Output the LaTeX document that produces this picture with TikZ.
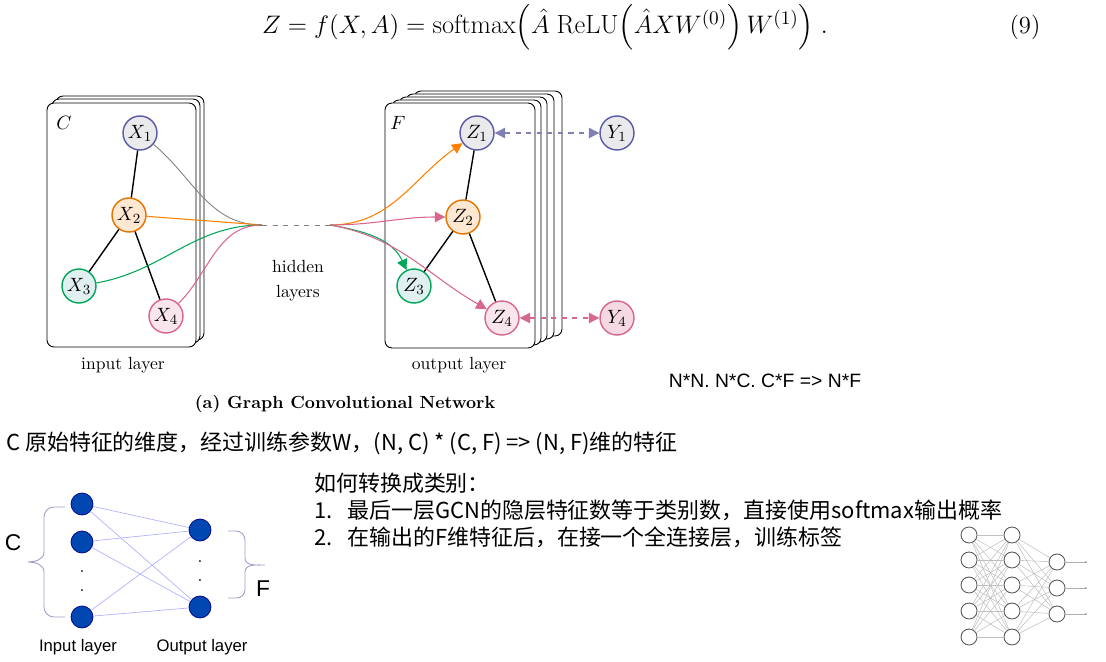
\documentclass[tikz,border=0pt]{standalone}
\usepackage{amsmath}
\usepackage{fontspec}
\newfontfamily\cjk{Noto Sans CJK SC}
\newfontfamily\sans{Liberation Sans}
\usetikzlibrary{arrows.meta,decorations.pathreplacing}
\begin{document}
\begin{tikzpicture}[x=0.02cm,y=-0.02cm,
  card/.style={draw,fill=white,rounded corners=4pt,line width=0.5pt},
  gn/.style={circle,draw,line width=0.8pt,minimum size=0.68cm,inner sep=0pt,font=\fontsize{11}{12}\selectfont},
  cgray/.style={draw=gray!70!blue,fill=blue!8!gray!15},
  corange/.style={draw=orange!90!black,fill=orange!18},
  cgreen/.style={draw=teal!70!green,fill=teal!12},
  cpink/.style={draw=purple!60,fill=purple!10},
  lab/.style={font=\fontsize{10}{12}\selectfont},
  nn/.style={circle,fill=blue!60!cyan!70!black,draw=blue!50!black,minimum size=0.44cm,inner sep=0pt},
  wn/.style={circle,draw=gray!70!black,fill=white,minimum size=0.32cm,inner sep=0pt,line width=0.5pt},
  cn/.style={font=\cjk\fontsize{12.5}{14}\selectfont,anchor=west},
  ar/.style={-{Triangle[length=6pt,width=6pt]},line width=0.6pt}]
\useasboundingbox (0,0) rectangle (1106,662);
% equation
\node (eq) at (545,27) {\fontsize{15}{17}\selectfont $Z=f(X,A)=\mathrm{softmax}\Bigl(\hat A\;\mathrm{ReLU}\Bigl(\hat A X W^{(0)}\Bigr)\,W^{(1)}\Bigr)\;.$};
\node (eqn) at (1025,27) {\fontsize{14}{16}\selectfont (9)};
% input cards
\draw[card] (56,96) rectangle (204,340);
\draw[card] (52,99) rectangle (200,343);
\draw[card] (47,103) rectangle (196,347);
\node (Cl) at (64,123) {\fontsize{11}{12}\selectfont $C$};
\node[gn,cgray] (X1) at (140,133) {$X_1$};
\node[gn,corange] (X2) at (129,215) {$X_2$};
\node[gn,cgreen] (X3) at (79,286) {$X_3$};
\node[gn,cpink] (X4) at (166,316) {$X_4$};
\draw[line width=0.8pt] (X1)--(X2) (X2)--(X3) (X2)--(X4);
\coordinate (hl) at (262,225);
\coordinate (hr) at (330,225);
\draw[gray,line width=0.5pt] (X1) to[out=-40,in=180] (hl);
\draw[orange,line width=0.6pt] (X2) -- (hl);
\draw[teal!70!green,line width=0.6pt] (X3) to[out=10,in=180] (hl);
\draw[purple!60,line width=0.6pt] (X4) to[out=45,in=180] (hl);
\draw[gray,dashed,line width=0.5pt] (hl)--(hr);
\node[lab] (hid) at (298,267) {hidden};
\node[lab] (lay) at (298,293) {layers};
% output cards
\draw[card] (414,91) rectangle (562,336);
\draw[card] (406,94) rectangle (554,339);
\draw[card] (399,97) rectangle (547,342);
\draw[card] (392,100) rectangle (541,345);
\draw[card] (385,103) rectangle (535,348);
\node (Fl) at (398,123) {\fontsize{11}{12}\selectfont $F$};
\node[gn,cgray] (Z1) at (477,133) {$Z_1$};
\node[gn,corange] (Z2) at (463,217) {$Z_2$};
\node[gn,cgreen] (Z3) at (414,286) {$Z_3$};
\node[gn,cpink] (Z4) at (502,318) {$Z_4$};
\node[gn,cgray] (Y1) at (617,133) {$Y_1$};
\node[gn,cpink,fill=purple!15] (Y4) at (617,318) {$Y_4$};
\draw[line width=0.8pt] (Z1)--(Z2) (Z2)--(Z3) (Z2)--(Z4);
\draw[ar,orange] (hr) to[out=0,in=-145] (Z1);
\draw[ar,purple!60] (hr) to[out=0,in=180] (Z2);
\draw[ar,teal!70!green] (hr) to[out=-10,in=115] (Z3);
\draw[ar,purple!60] (hr) to[out=-10,in=150] (Z4);
\draw[{Triangle[length=6pt,width=6pt]}-{Triangle[length=6pt,width=6pt]},dashed,line width=0.6pt,blue!25!gray!80] (Z1)--(Y1);
\draw[{Triangle[length=6pt,width=6pt]}-{Triangle[length=6pt,width=6pt]},dashed,line width=0.6pt,purple!60] (Z4)--(Y4);
\node[lab] (il) at (123,365) {input layer};
\node[lab] (ol) at (459,365) {output layer};
\node[lab] (cap) at (345,404) {\bfseries (a) Graph Convolutional Network};
\node[font=\sans\fontsize{11}{12}\selectfont] (nn1) at (765,381) {N*N. N*C. C*F => N*F};
% chinese text
\node[cn] (t1) at (0,443) {C 原始特征的维度，经过训练参数W，(N, C) * (C, F) => (N, F)维的特征};
\node[cn] (t2) at (308,483) {如何转换成类别：};
\node[cn] (t3) at (308,510) {1.\ \ \ 最后一层GCN的隐层特征数等于类别数，直接使用softmax输出概率};
\node[cn] (t4) at (308,537) {2.\ \ \ 在输出的F维特征后，在接一个全连接层，训练标签};
% small NN
\node[nn] (a1) at (82,504) {};
\node[nn] (a2) at (82,542) {};
\node[nn] (a3) at (82,617) {};
\node[nn] (b1) at (200,530) {};
\node[nn] (b2) at (200,607) {};
\foreach \i in {a1,a2,a3} \foreach \j in {b1,b2} \draw[blue!30,line width=0.4pt] (\i)--(\j);
\node (d1) at (82,572) {.}; \node (d2) at (82,591) {.};
\node (d3) at (200,562) {.}; \node (d4) at (200,581) {.};
\draw[blue!30!gray!60,line width=0.5pt] (65,507) -- (54,507) to[out=180,in=90] (44,517) -- (44,552) to[out=-90,in=0] (28,562) to[out=0,in=90] (44,572) -- (44,607) to[out=-90,in=180] (54,617) -- (65,617);
\draw[blue!30!gray!60,line width=0.5pt] (228,531) -- (236,531) to[out=0,in=90] (245,540) -- (245,558) to[out=-90,in=180] (265,565) to[out=180,in=90] (245,572) -- (245,590) to[out=-90,in=0] (236,598) -- (228,598);
\node[font=\sans\fontsize{13}{14}\selectfont] (Clab) at (13,543) {C};
\node[font=\sans\fontsize{13}{14}\selectfont] (Flab) at (263,589) {F};
\node[font=\sans\fontsize{9.5}{11}\selectfont] (inl) at (78,647) {Input layer};
\node[font=\sans\fontsize{9.5}{11}\selectfont] (outl) at (202,647) {Output layer};
% right NN
\foreach \k/\y in {1/535,2/560,3/585,4/611,5/637} {
  \node[wn] (p\k) at (969,\y) {};
  \node[wn] (q\k) at (1012,\y) {};
}
\foreach \k/\y in {1/562,2/588,3/614} \node[wn] (r\k) at (1057,\y) {};
\foreach \i in {1,...,5} \foreach \j in {1,...,5} \draw[gray!50,line width=0.3pt] (p\i)--(q\j);
\foreach \i in {1,...,5} \foreach \j in {1,2,3} \draw[gray!50,line width=0.3pt] (q\i)--(r\j);
\foreach \k in {1,2,3} {\coordinate (e\k) at (1086,{536+26*\k}); \draw[gray!60,line width=0.4pt] (r\k)--(e\k); \fill (e\k) circle (0.4pt);}
\end{tikzpicture}
\end{document}
